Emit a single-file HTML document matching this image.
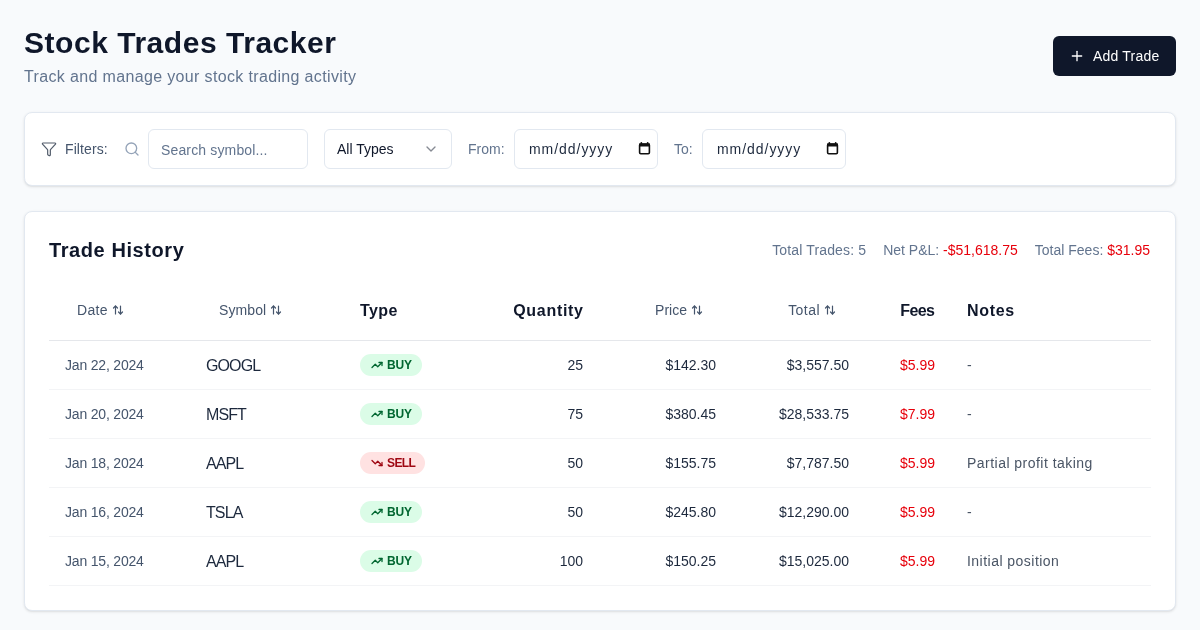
<!DOCTYPE html>
<html>
<head>
<meta charset="utf-8">
<style>
*{box-sizing:border-box;margin:0;padding:0}
html,body{width:1200px;height:630px;overflow:hidden}
body{background:#f8fafc;font-family:"Liberation Sans",sans-serif;color:#0f172a;position:relative}
.abs{position:absolute;white-space:nowrap}
h1{position:absolute;left:24px;top:25px;font-size:30px;line-height:36px;font-weight:700;color:#0f172a;letter-spacing:0.53px}
.sub{position:absolute;left:24px;top:65px;font-size:16px;line-height:24px;color:#62748e;letter-spacing:0.35px}
.btn{position:absolute;left:1053px;top:36px;width:123px;height:40px;background:#0f172a;border-radius:6px;color:#fff}
.btn svg{position:absolute;left:16px;top:12px}
.btn span{position:absolute;left:40px;top:10px;font-size:14px;line-height:20px;letter-spacing:0.2px}
.card{position:absolute;left:24px;width:1152px;background:#fff;border:1px solid #e2e8f0;border-radius:8px;box-shadow:0 1px 3px 0 rgba(0,0,0,.1),0 1px 2px -1px rgba(0,0,0,.1)}
.c1{top:112px;height:74px}
.c2{top:211px;height:400px}
.lbl{font-size:14px;line-height:20px;color:#62748e}
.inp{position:absolute;top:129px;height:40px;border:1px solid #e2e8f0;border-radius:6px;background:#fff}
.inp span{position:absolute;left:12px;top:10px;font-size:14px;line-height:20px;white-space:nowrap}
.icon{position:absolute}
.red{color:#e7000b}
.hline{position:absolute;left:49px;width:1102px;height:1px;background:#e5e7eb}
.rline{position:absolute;left:49px;width:1102px;height:1px;background:#f3f4f6}
.th{position:absolute;top:300px;font-size:14px;line-height:20px;color:#45556c;white-space:nowrap}
.th i{display:inline-block;width:12px;height:12px;margin-left:4px;vertical-align:-1px}
.th i svg{display:block;stroke-width:2.4}
.thb{position:absolute;top:299px;font-size:16px;line-height:24px;font-weight:700;color:#0f172a;white-space:nowrap}
.td{position:absolute;font-size:14px;line-height:20px;white-space:nowrap}
.dt{color:#45556c;letter-spacing:-0.19px}
.sym{font-size:16px;line-height:24px;color:#1d293d;letter-spacing:-0.9px}
.num{color:#1d293d}
.note{color:#4a5565;letter-spacing:0.47px}
.badge{position:absolute;height:22px;border-radius:11px;padding:0 10px 0 11px;display:flex;align-items:center;font-size:12px;white-space:nowrap}
.badge svg{margin-right:4px}
.badge b{font-weight:700;line-height:16px;letter-spacing:-0.2px}
.badge svg{stroke-width:2.6}
.buy{background:#dbfce7;color:#016630}
.sell{background:#ffe2e2;color:#9f0712}

body{will-change:transform}
</style>
</head>
<body>
<h1>Stock Trades Tracker</h1>
<div class="sub">Track and manage your stock trading activity</div>
<div class="btn">
  <svg width="16" height="16" viewBox="0 0 24 24" fill="none" stroke="#fff" stroke-width="2" stroke-linecap="round" stroke-linejoin="round"><path d="M5 12h14"/><path d="M12 5v14"/></svg>
  <span>Add Trade</span>
</div>

<div class="card c1"></div>
<svg class="icon" style="left:41px;top:141px" width="16" height="16" viewBox="0 0 24 24" fill="none" stroke="#525c6b" stroke-width="1.8" stroke-linecap="round" stroke-linejoin="round"><path d="M10 20a1 1 0 0 0 .553.895l2 1A1 1 0 0 0 14 21v-7a2 2 0 0 1 .517-1.341L21.74 4.67A1 1 0 0 0 21 3H3a1 1 0 0 0-.742 1.67l7.225 7.989A2 2 0 0 1 10 14z"/></svg>
<div class="abs lbl" style="left:65px;top:139px;color:#45556c;letter-spacing:0.1px">Filters:</div>
<svg class="icon" style="left:124px;top:141px" width="16" height="16" viewBox="0 0 24 24" fill="none" stroke="#94a3b8" stroke-width="2" stroke-linecap="round" stroke-linejoin="round"><circle cx="11" cy="11" r="8"/><path d="m21 21-4.3-4.3"/></svg>
<div class="inp" style="left:148px;width:160px"><span style="color:#62748e;letter-spacing:0.15px">Search symbol...</span></div>
<div class="inp" style="left:324px;width:128px"><span style="color:#0f172a;top:9px">All Types</span>
  <svg class="icon" style="left:98px;top:11px;opacity:.5" width="16" height="16" viewBox="0 0 24 24" fill="none" stroke="#0f172a" stroke-width="2" stroke-linecap="round" stroke-linejoin="round"><path d="m6 9 6 6 6-6"/></svg>
</div>
<div class="abs lbl" style="left:468px;top:139px">From:</div>
<div class="inp" style="left:514px;width:144px"><span style="color:#1d293d;left:14px;top:9.4px;letter-spacing:0.95px">mm/dd/yyyy</span>
  <svg class="icon" style="left:123px;top:12px" width="13" height="14" viewBox="0 0.5 13 14"><rect x="1.6" y="2.6" width="9.8" height="9.6" rx="1.2" fill="none" stroke="#111" stroke-width="1.6"/><rect x="1" y="2" width="11" height="3" fill="#111"/><rect x="2.6" y="0.6" width="1.5" height="2" fill="#111"/><rect x="8.9" y="0.6" width="1.5" height="2" fill="#111"/></svg>
</div>
<div class="abs lbl" style="left:674px;top:139px">To:</div>
<div class="inp" style="left:702px;width:144px"><span style="color:#1d293d;left:14px;top:9.4px;letter-spacing:0.95px">mm/dd/yyyy</span>
  <svg class="icon" style="left:123px;top:12px" width="13" height="14" viewBox="0 0.5 13 14"><rect x="1.6" y="2.6" width="9.8" height="9.6" rx="1.2" fill="none" stroke="#111" stroke-width="1.6"/><rect x="1" y="2" width="11" height="3" fill="#111"/><rect x="2.6" y="0.6" width="1.5" height="2" fill="#111"/><rect x="8.9" y="0.6" width="1.5" height="2" fill="#111"/></svg>
</div>

<div class="card c2"></div>
<div class="abs" style="left:49px;top:236px;font-size:20px;line-height:28px;font-weight:700;color:#0f172a;letter-spacing:0.58px">Trade History</div>
<div class="abs lbl" style="right:50px;top:240px"><span style="letter-spacing:0.14px">Total Trades: 5</span><span style="margin-left:17px">Net P&amp;L: <span class="red">-$51,618.75</span></span><span style="margin-left:17px">Total Fees: <span class="red">$31.95</span></span></div>
<div class="hline" style="top:340px"></div>
<div class="th" style="left:77px;letter-spacing:0.3px">Date<i><svg width="12" height="12" viewBox="0 0 24 24" fill="none" stroke="currentColor" stroke-width="2" stroke-linecap="round" stroke-linejoin="round"><path d="m21 16-4 4-4-4"/><path d="M17 20V4"/><path d="m3 8 4-4 4 4"/><path d="M7 4v16"/></svg></i></div>
<div class="th" style="left:219px;letter-spacing:0.1px">Symbol<i><svg width="12" height="12" viewBox="0 0 24 24" fill="none" stroke="currentColor" stroke-width="2" stroke-linecap="round" stroke-linejoin="round"><path d="m21 16-4 4-4-4"/><path d="M17 20V4"/><path d="m3 8 4-4 4 4"/><path d="M7 4v16"/></svg></i></div>
<div class="thb" style="left:360px;letter-spacing:0.4px">Type</div>
<div class="thb" style="right:617px;letter-spacing:0.7px;margin-right:-0.7px">Quantity</div>
<div class="th" style="right:497px">Price<i><svg width="12" height="12" viewBox="0 0 24 24" fill="none" stroke="currentColor" stroke-width="2" stroke-linecap="round" stroke-linejoin="round"><path d="m21 16-4 4-4-4"/><path d="M17 20V4"/><path d="m3 8 4-4 4 4"/><path d="M7 4v16"/></svg></i></div>
<div class="th" style="right:364px;letter-spacing:0.45px">Total<i><svg width="12" height="12" viewBox="0 0 24 24" fill="none" stroke="currentColor" stroke-width="2" stroke-linecap="round" stroke-linejoin="round"><path d="m21 16-4 4-4-4"/><path d="M17 20V4"/><path d="m3 8 4-4 4 4"/><path d="M7 4v16"/></svg></i></div>
<div class="thb" style="right:265px;letter-spacing:-0.55px;margin-right:0.55px">Fees</div>
<div class="thb" style="left:967px;letter-spacing:0.67px">Notes</div>
<div class="rline" style="top:389px"></div>
<div class="td dt" style="left:65px;top:355px">Jan 22, 2024</div>
<div class="td sym" style="left:206px;top:354px">GOOGL</div>
<div class="badge buy" style="left:360px;top:354px"><svg width="12" height="12" viewBox="0 0 24 24" fill="none" stroke="currentColor" stroke-width="2" stroke-linecap="round" stroke-linejoin="round"><polyline points="22 7 13.5 15.5 8.5 10.5 2 17"/><polyline points="16 7 22 7 22 13"/></svg><b>BUY</b></div>
<div class="td num" style="right:617px;top:355px">25</div>
<div class="td num" style="right:484px;top:355px">$142.30</div>
<div class="td num" style="right:351px;top:355px">$3,557.50</div>
<div class="td red" style="right:265px;top:355px">$5.99</div>
<div class="td note" style="left:967px;top:355px">-</div>
<div class="rline" style="top:438px"></div>
<div class="td dt" style="left:65px;top:404px">Jan 20, 2024</div>
<div class="td sym" style="left:206px;top:403px">MSFT</div>
<div class="badge buy" style="left:360px;top:403px"><svg width="12" height="12" viewBox="0 0 24 24" fill="none" stroke="currentColor" stroke-width="2" stroke-linecap="round" stroke-linejoin="round"><polyline points="22 7 13.5 15.5 8.5 10.5 2 17"/><polyline points="16 7 22 7 22 13"/></svg><b>BUY</b></div>
<div class="td num" style="right:617px;top:404px">75</div>
<div class="td num" style="right:484px;top:404px">$380.45</div>
<div class="td num" style="right:351px;top:404px">$28,533.75</div>
<div class="td red" style="right:265px;top:404px">$7.99</div>
<div class="td note" style="left:967px;top:404px">-</div>
<div class="rline" style="top:487px"></div>
<div class="td dt" style="left:65px;top:453px">Jan 18, 2024</div>
<div class="td sym" style="left:206px;top:452px">AAPL</div>
<div class="badge sell" style="left:360px;top:452px"><svg width="12" height="12" viewBox="0 0 24 24" fill="none" stroke="currentColor" stroke-width="2" stroke-linecap="round" stroke-linejoin="round"><polyline points="22 17 13.5 8.5 8.5 13.5 2 7"/><polyline points="16 17 22 17 22 11"/></svg><b style="letter-spacing:-0.6px">SELL</b></div>
<div class="td num" style="right:617px;top:453px">50</div>
<div class="td num" style="right:484px;top:453px">$155.75</div>
<div class="td num" style="right:351px;top:453px">$7,787.50</div>
<div class="td red" style="right:265px;top:453px">$5.99</div>
<div class="td note" style="left:967px;top:453px">Partial profit taking</div>
<div class="rline" style="top:536px"></div>
<div class="td dt" style="left:65px;top:502px">Jan 16, 2024</div>
<div class="td sym" style="left:206px;top:501px">TSLA</div>
<div class="badge buy" style="left:360px;top:501px"><svg width="12" height="12" viewBox="0 0 24 24" fill="none" stroke="currentColor" stroke-width="2" stroke-linecap="round" stroke-linejoin="round"><polyline points="22 7 13.5 15.5 8.5 10.5 2 17"/><polyline points="16 7 22 7 22 13"/></svg><b>BUY</b></div>
<div class="td num" style="right:617px;top:502px">50</div>
<div class="td num" style="right:484px;top:502px">$245.80</div>
<div class="td num" style="right:351px;top:502px">$12,290.00</div>
<div class="td red" style="right:265px;top:502px">$5.99</div>
<div class="td note" style="left:967px;top:502px">-</div>
<div class="rline" style="top:585px"></div>
<div class="td dt" style="left:65px;top:551px">Jan 15, 2024</div>
<div class="td sym" style="left:206px;top:550px">AAPL</div>
<div class="badge buy" style="left:360px;top:550px"><svg width="12" height="12" viewBox="0 0 24 24" fill="none" stroke="currentColor" stroke-width="2" stroke-linecap="round" stroke-linejoin="round"><polyline points="22 7 13.5 15.5 8.5 10.5 2 17"/><polyline points="16 7 22 7 22 13"/></svg><b>BUY</b></div>
<div class="td num" style="right:617px;top:551px">100</div>
<div class="td num" style="right:484px;top:551px">$150.25</div>
<div class="td num" style="right:351px;top:551px">$15,025.00</div>
<div class="td red" style="right:265px;top:551px">$5.99</div>
<div class="td note" style="left:967px;top:551px">Initial position</div>

</body>
</html>
